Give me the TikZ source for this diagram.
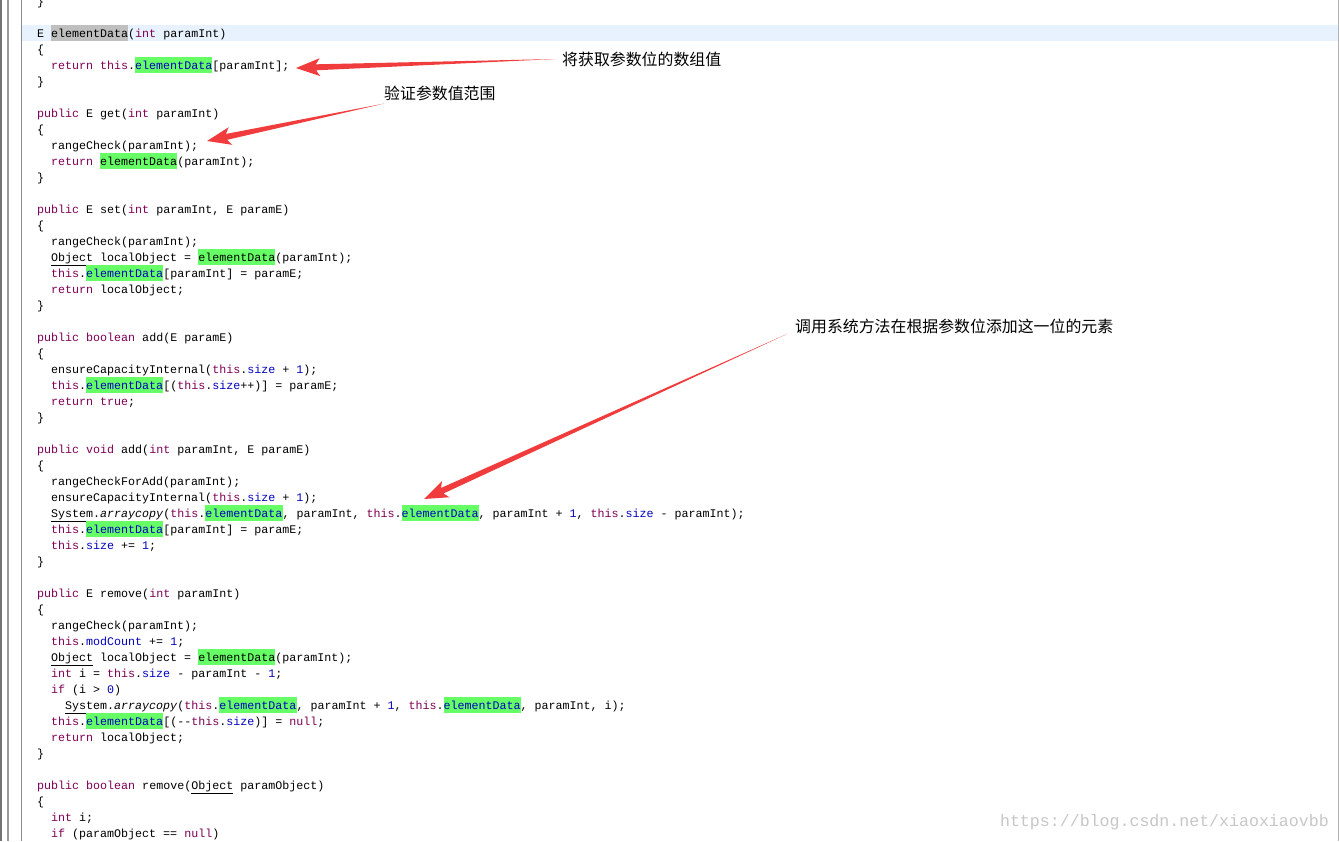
\documentclass[tikz,border=0pt]{standalone}
\usepackage{fontspec}
\setmonofont{Liberation Mono}
\newfontfamily\cjk{Noto Sans CJK SC}
\newfontfamily\wmfont{Liberation Mono}
\usetikzlibrary{calc}
\definecolor{kwc}{HTML}{7F0055}
\definecolor{fdc}{HTML}{0000C0}
\definecolor{hlc}{HTML}{66FF66}
\definecolor{arr}{HTML}{F03C3C}
\definecolor{cur}{HTML}{E8F2FE}
\newcommand{\kw}[1]{\textcolor{kwc}{#1}}
\newcommand{\fd}[1]{\textcolor{fdc}{#1}}
\newcommand{\hlf}[1]{{\setlength\fboxsep{0pt}\colorbox{hlc}{\rule[-4pt]{0pt}{16pt}\textcolor{fdc}{#1}}}}
\newcommand{\hlm}[1]{{\setlength\fboxsep{0pt}\colorbox{hlc}{\rule[-4pt]{0pt}{16pt}#1}}}
\newcommand{\hlg}[1]{{\setlength\fboxsep{0pt}\colorbox{black!25}{\rule[-4pt]{0pt}{16pt}#1}}}
\newcommand{\taper}[2]{%
  \fill[arr] (#1) -- ($(#2)!20pt!(#1)!3pt!90:(#2)$) -- ($(#2)!24pt!(#1)!9pt!90:(#2)$) -- (#2)
   -- ($(#2)!24pt!(#1)!9pt!-90:(#2)$) -- ($(#2)!20pt!(#1)!3pt!-90:(#2)$) -- cycle;}
\tikzset{code/.style={anchor=base west,inner sep=0pt,font=\ttfamily\fontsize{11.67}{14}\selectfont},
 note/.style={anchor=west,inner sep=0pt,font=\cjk\fontsize{15.9}{17}\selectfont}}
\begin{document}
\begin{tikzpicture}[x=1pt,y=-1pt]
\useasboundingbox (0,0) rectangle (1339,841);
\clip (0,0) rectangle (1339,841);
\fill[white] (0,0) rectangle (1339,841);
\fill[cur] (22,25) rectangle (1339,41);
\fill[black!55] (0,0) rectangle (2,841);
\fill[black!40] (6.5,0) rectangle (8.5,841);
\draw[black!45] (21.5,0) -- (21.5,841);
\draw[black!30] (1338.5,0) -- (1338.5,841);
\newcommand{\A}{37}\newcommand{\B}{51}\newcommand{\C}{65}
\node[code] (c1) at (\A,5) {\}};
\node[code] (c2) at (\A,37) {E \hlg{elementData}(\kw{int} paramInt)};
\node[code] (c3) at (\A,53) {\{};
\node[code] (c4) at (\B,69) {\kw{return} \kw{this}.\hlf{elementData}[paramInt];};
\node[code] (c5) at (\A,85) {\}};
\node[code] (c6) at (\A,117) {\kw{public} E get(\kw{int} paramInt)};
\node[code] (c7) at (\A,133) {\{};
\node[code] (c8) at (\B,149) {rangeCheck(paramInt);};
\node[code] (c9) at (\B,165) {\kw{return} \hlm{elementData}(paramInt);};
\node[code] (c10) at (\A,181) {\}};
\node[code] (c11) at (\A,213) {\kw{public} E set(\kw{int} paramInt, E paramE)};
\node[code] (c12) at (\A,229) {\{};
\node[code] (c13) at (\B,245) {rangeCheck(paramInt);};
\node[code] (c14) at (\B,261) {\underline{Object} localObject = \hlm{elementData}(paramInt);};
\node[code] (c15) at (\B,277) {\kw{this}.\hlf{elementData}[paramInt] = paramE;};
\node[code] (c16) at (\B,293) {\kw{return} localObject;};
\node[code] (c17) at (\A,309) {\}};
\node[code] (c18) at (\A,341) {\kw{public} \kw{boolean} add(E paramE)};
\node[code] (c19) at (\A,357) {\{};
\node[code] (c20) at (\B,373) {ensureCapacityInternal(\kw{this}.\fd{size} + \fd{1});};
\node[code] (c21) at (\B,389) {\kw{this}.\hlf{elementData}[(\kw{this}.\fd{size}++)] = paramE;};
\node[code] (c22) at (\B,405) {\kw{return} \kw{true};};
\node[code] (c23) at (\A,421) {\}};
\node[code] (c24) at (\A,453) {\kw{public} \kw{void} add(\kw{int} paramInt, E paramE)};
\node[code] (c25) at (\A,469) {\{};
\node[code] (c26) at (\B,485) {rangeCheckForAdd(paramInt);};
\node[code] (c27) at (\B,501) {ensureCapacityInternal(\kw{this}.\fd{size} + \fd{1});};
\node[code] (c28) at (\B,517) {\underline{System}.\textit{arraycopy}(\kw{this}.\hlf{elementData}, paramInt, \kw{this}.\hlf{elementData}, paramInt + \fd{1}, \kw{this}.\fd{size} - paramInt);};
\node[code] (c29) at (\B,533) {\kw{this}.\hlf{elementData}[paramInt] = paramE;};
\node[code] (c30) at (\B,549) {\kw{this}.\fd{size} += \fd{1};};
\node[code] (c31) at (\A,565) {\}};
\node[code] (c32) at (\A,597) {\kw{public} E remove(\kw{int} paramInt)};
\node[code] (c33) at (\A,613) {\{};
\node[code] (c34) at (\B,629) {rangeCheck(paramInt);};
\node[code] (c35) at (\B,645) {\kw{this}.\fd{modCount} += \fd{1};};
\node[code] (c36) at (\B,661) {\underline{Object} localObject = \hlm{elementData}(paramInt);};
\node[code] (c37) at (\B,677) {\kw{int} i = \kw{this}.\fd{size} - paramInt - \fd{1};};
\node[code] (c38) at (\B,693) {\kw{if} (i > \fd{0})};
\node[code] (c39) at (\C,709) {\underline{System}.\textit{arraycopy}(\kw{this}.\hlf{elementData}, paramInt + \fd{1}, \kw{this}.\hlf{elementData}, paramInt, i);};
\node[code] (c40) at (\B,725) {\kw{this}.\hlf{elementData}[(--\kw{this}.\fd{size})] = \kw{null};};
\node[code] (c41) at (\B,741) {\kw{return} localObject;};
\node[code] (c42) at (\A,757) {\}};
\node[code] (c43) at (\A,789) {\kw{public} \kw{boolean} remove(\underline{Object} paramObject)};
\node[code] (c44) at (\A,805) {\{};
\node[code] (c45) at (\B,821) {\kw{int} i;};
\node[code] (c46) at (\B,837) {\kw{if} (paramObject == \kw{null})};
\node[note] (n1) at (562,59) {将获取参数位的数组值};
\node[note] (n2) at (384,93) {验证参数值范围};
\node[note] (n3) at (795,326) {调用系统方法在根据参数位添加这一位的元素};
\coordinate (t1) at (296,68);
\coordinate (t2) at (207,141);
\coordinate (t3) at (424,499);
\taper{$(n1.west)+(-6,0)$}{t1}
\taper{$(n2.south west)+(0,3)$}{t2}
\taper{$(n3.west)+(-8,8)$}{t3}
\node[anchor=east,inner sep=0pt,font=\wmfont\fontsize{16.6}{18}\selectfont,text=black!22] (wm) at (1329,822) {https://blog.csdn.net/xiaoxiaovbb};
\end{tikzpicture}
\end{document}
